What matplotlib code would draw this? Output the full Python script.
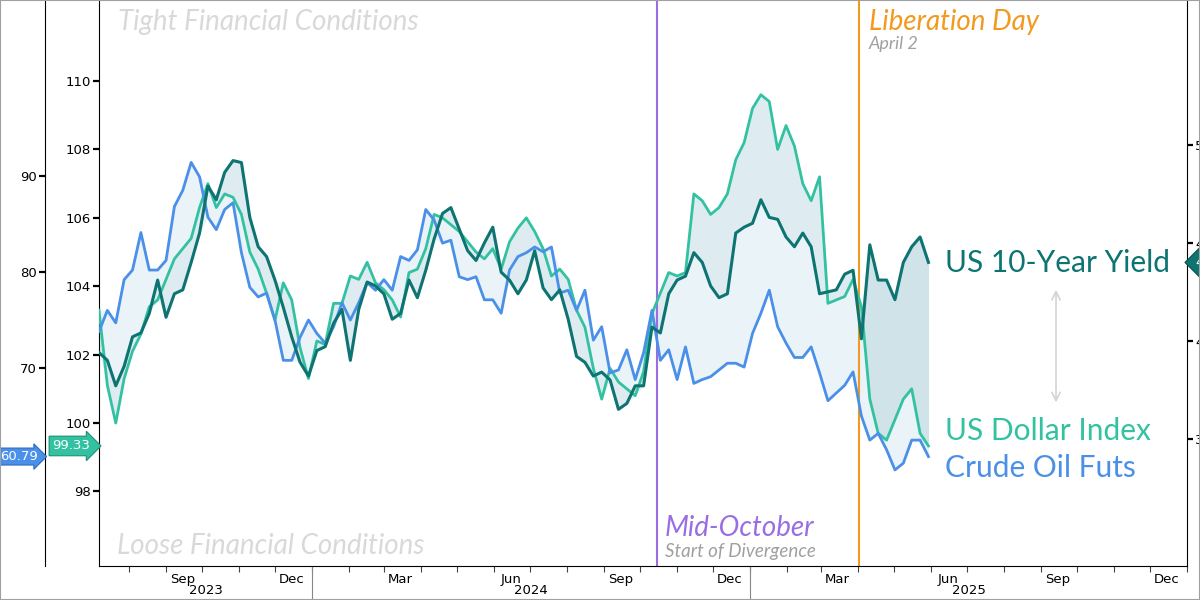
import matplotlib
matplotlib.use('Agg')
import matplotlib.pyplot as plt
import matplotlib.dates as mdates
import matplotlib.transforms as mtransforms
from matplotlib.patches import Rectangle
import numpy as np
import pandas as pd

# weekly closes
dates = pd.date_range('2023-07-07', periods=100, freq='7D')

dollar = [103.3, 101.1, 100.0, 101.3, 102.1, 102.6, 103.4, 103.6, 104.2, 104.8,
          105.1, 105.4, 106.3, 107.0, 106.3, 106.7, 106.6, 106.1, 105.0, 104.5,
          103.8, 103.0, 104.1, 103.6, 102.2, 101.3, 102.4, 102.3, 103.5, 103.5,
          104.3, 104.2, 104.7, 104.1, 103.9, 103.6, 103.1, 104.4, 104.5, 105.1,
          106.1, 106.0, 105.8, 105.6, 105.3, 105.0, 104.8, 105.1, 104.5, 105.3,
          105.7, 106.0, 105.6, 105.1, 104.3, 104.5, 104.2, 103.3, 102.8, 101.6,
          100.7, 101.6, 101.2, 101.0, 100.8, 101.5, 103.2, 103.8, 104.4, 104.3,
          104.4, 106.7, 106.5, 106.1, 106.3, 106.7, 107.7, 108.2, 109.2, 109.6,
          109.4, 108.0, 108.7, 108.1, 107.0, 106.5, 107.2, 103.5, 103.6, 103.7,
          104.2, 103.4, 100.7, 99.7, 99.5, 100.1, 100.7, 101.0, 99.7, 99.33]

oil = [73.8, 76.0, 74.7, 79.2, 80.2, 84.1, 80.2, 80.2, 81.2, 86.8,
       88.5, 91.4, 89.9, 85.7, 84.4, 86.5, 87.2, 82.0, 78.4, 77.4,
       77.8, 75.0, 70.8, 70.8, 73.2, 75.0, 73.6, 72.6, 74.3, 76.8,
       75.0, 76.8, 78.9, 78.1, 79.2, 78.1, 81.6, 81.2, 82.3, 86.5,
       85.4, 83.0, 83.3, 79.5, 79.2, 79.5, 77.1, 77.1, 75.7, 80.2,
       81.6, 82.0, 82.6, 82.1, 82.6, 77.8, 78.1, 76.0, 78.1, 72.9,
       74.3, 69.5, 69.8, 71.9, 68.8, 71.6, 76.0, 70.8, 71.9, 68.8,
       72.2, 68.4, 68.8, 69.1, 69.8, 70.5, 70.5, 70.1, 73.6, 75.7,
       78.1, 74.3, 72.6, 71.1, 71.1, 72.2, 69.5, 66.6, 67.4, 68.2,
       69.6, 65.0, 62.5, 63.2, 61.5, 59.4, 60.1, 62.5, 62.5, 60.79]

yield10 = [3.94, 3.90, 3.77, 3.87, 4.02, 4.04, 4.14, 4.31, 4.12, 4.24,
           4.26, 4.40, 4.55, 4.79, 4.72, 4.86, 4.92, 4.91, 4.63, 4.48,
           4.43, 4.31, 4.17, 4.02, 3.89, 3.82, 3.95, 3.97, 4.09, 4.16,
           3.90, 4.16, 4.30, 4.28, 4.24, 4.11, 4.14, 4.31, 4.22, 4.36,
           4.52, 4.65, 4.68, 4.57, 4.46, 4.41, 4.50, 4.58, 4.35, 4.31,
           4.24, 4.31, 4.46, 4.27, 4.21, 4.26, 4.11, 3.92, 3.89, 3.82,
           3.84, 3.80, 3.65, 3.68, 3.77, 3.77, 4.07, 4.04, 4.24, 4.31,
           4.33, 4.45, 4.40, 4.28, 4.22, 4.24, 4.55, 4.58, 4.60, 4.72,
           4.63, 4.62, 4.53, 4.48, 4.55, 4.48, 4.24, 4.25, 4.26, 4.34,
           4.36, 4.01, 4.49, 4.31, 4.31, 4.21, 4.40, 4.48, 4.53, 4.40]

dollar_ticks = [98, 100, 102, 104, 106, 108, 110]
oil_ticks = [70, 80, 90]
yield_ticks = [3.5, 4.0, 4.5, 5.0]

mid_oct = pd.Timestamp('2024-10-15')
lib_day = pd.Timestamp('2025-04-02')

C_YLD = '#0e7472'
C_USD = '#33c2a1'
C_OIL = '#4a8fe8'
C_PURPLE = '#9a6ee2'
C_ORANGE = '#f29a1f'

D_LIM = (95.82, 112.37)
O_LIM = (49.4, 108.3)
Y_LIM = (2.85, 5.74)

plt.rcParams['font.family'] = 'DejaVu Sans'

fig = plt.figure(figsize=(12, 6), dpi=100)
ax = fig.add_axes([99 / 1200, 34 / 600, 1088 / 1200, 566 / 600])
ax_oil = ax.twinx()
ax_y = ax.twinx()

ax.set_xlim(pd.Timestamp('2023-07-07'), pd.Timestamp('2026-01-01'))
ax.set_ylim(*D_LIM)
ax_oil.set_ylim(*O_LIM)
ax_y.set_ylim(*Y_LIM)


def to_dollar(v, lim):
    v = np.asarray(v, dtype=float)
    return D_LIM[0] + (v - lim[0]) / (lim[1] - lim[0]) * (D_LIM[1] - D_LIM[0])


d = np.asarray(dollar)
o = to_dollar(oil, O_LIM)
y = to_dollar(yield10, Y_LIM)
top = np.maximum.reduce([d, o, y])
bot = np.minimum.reduce([d, o, y])
ax.fill_between(dates, bot, top, color='#eaf3f8', lw=0, zorder=1)
ax.fill_between(dates, y, d, color=C_YLD, alpha=0.05, lw=0, zorder=1)
post = dates >= lib_day
ax.fill_between(dates, y, d, where=post, color=C_YLD, alpha=0.07, lw=0, zorder=1)

ax.axvline(mid_oct, color=C_PURPLE, lw=1.5, zorder=2)
ax.axvline(lib_day, color=C_ORANGE, lw=1.5, zorder=2)

ax.plot(dates, dollar, color=C_USD, lw=2, zorder=3)
ax_oil.plot(dates, oil, color=C_OIL, lw=2, zorder=3)
ax_y.plot(dates, yield10, color=C_YLD, lw=2.2, zorder=3)

# axes styling
for a in (ax, ax_oil, ax_y):
    for s in a.spines.values():
        s.set_visible(False)
ax.spines['left'].set_visible(True)
ax.spines['bottom'].set_visible(True)
ax_oil.spines['left'].set_visible(True)
ax_oil.spines['left'].set_position(('outward', 54 * 0.72))
ax_oil.yaxis.set_ticks_position('left')
ax_oil.yaxis.set_label_position('left')
ax_y.spines['right'].set_visible(True)

ax.set_yticks(dollar_ticks)
ax_oil.set_yticks(oil_ticks)
ax_y.set_yticks(yield_ticks)
ax_y.set_yticklabels([f'{t:.1f}' for t in yield_ticks])
for a in (ax, ax_oil, ax_y):
    a.tick_params(axis='y', length=4, width=1.6, labelsize=9.5, pad=2)

ax.xaxis.set_major_locator(mdates.MonthLocator(bymonth=[3, 6, 9, 12], bymonthday=15))
ax.xaxis.set_major_formatter(mdates.DateFormatter('%b'))
ax.xaxis.set_minor_locator(mdates.MonthLocator())
ax.tick_params(axis='x', which='major', length=0, labelsize=9.5, pad=5)
ax.tick_params(axis='x', which='minor', length=4, width=0.8, color='#444444')

trans = mtransforms.blended_transform_factory(ax.transData, ax.transAxes)
x0, x1 = [mdates.num2date(v).replace(tzinfo=None) for v in ax.get_xlim()]
for yr in (2023, 2024, 2025):
    a0 = max(pd.Timestamp(x0), pd.Timestamp(f'{yr}-01-01'))
    a1 = min(pd.Timestamp(x1), pd.Timestamp(f'{yr + 1}-01-01'))
    ax.text(a0 + (a1 - a0) / 2, -0.044, str(yr), transform=trans, ha='center',
            va='center', fontsize=9.5)
    if yr > 2023:
        ax.plot([pd.Timestamp(f'{yr}-01-01')] * 2, [0, -0.065], transform=trans,
                color='#888888', lw=0.8, clip_on=False)

# last-value tags
tr_d = mtransforms.blended_transform_factory(ax.transAxes, ax.transData)
ax.text(-0.008, dollar[-1], f'{dollar[-1]:.2f}', transform=tr_d, ha='right', va='center',
        fontsize=9.5, color='white',
        bbox=dict(boxstyle='rarrow,pad=0.25', fc=C_USD, ec='#1f8f75', lw=0.8))
tr_o = mtransforms.blended_transform_factory(ax_oil.transAxes, ax_oil.transData)
ax_oil.text(-0.0565, oil[-1], f'{oil[-1]:.2f}', transform=tr_o, ha='right', va='center',
            fontsize=9.5, color='white',
            bbox=dict(boxstyle='rarrow,pad=0.15', fc=C_OIL, ec='#2c6cc0', lw=0.8))
tr_y = mtransforms.blended_transform_factory(ax_y.transAxes, ax_y.transData)
ax_y.text(1.008, yield10[-1], f'{yield10[-1]:.2f}', transform=tr_y, ha='left', va='center',
          fontsize=9.5, color='white',
          bbox=dict(boxstyle='larrow,pad=0.25', fc=C_YLD, ec='#094f4d', lw=0.8))

# annotations
ax.text(0.0175, 0.961, 'Tight Financial Conditions', transform=ax.transAxes,
        fontsize=20, style='italic', family='Lato', color='#d9d9d9', va='center')
ax.text(0.0165, 0.035, 'Loose Financial Conditions', transform=ax.transAxes,
        fontsize=20, style='italic', family='Lato', color='#d9d9d9', va='center')
ax.text(0.7077, 0.961, 'Liberation Day', transform=ax.transAxes,
        fontsize=20, style='italic', family='Lato', color=C_ORANGE, va='center')
ax.text(0.7077, 0.922, 'April 2', transform=ax.transAxes,
        fontsize=13, style='italic', family='Lato', color='#a0a0a0', va='center')
ax.text(0.520, 0.067, 'Mid-October', transform=ax.transAxes,
        fontsize=20, style='italic', family='Lato', color=C_PURPLE, va='center')
ax.text(0.520, 0.0265, 'Start of Divergence', transform=ax.transAxes,
        fontsize=13.5, style='italic', family='Lato', color='#a0a0a0', va='center')

ax.text(0.7776, 0.535, 'US 10-Year Yield', transform=ax.transAxes,
        fontsize=21.5, family='Lato', color=C_YLD, va='center')
ax.text(0.7776, 0.2385, 'US Dollar Index', transform=ax.transAxes,
        fontsize=21.5, family='Lato', color=C_USD, va='center')
ax.text(0.7776, 0.173, 'Crude Oil Futs', transform=ax.transAxes,
        fontsize=21.5, family='Lato', color=C_OIL, va='center')
ax.annotate('', xy=(0.8796, 0.493), xytext=(0.8796, 0.284), xycoords='axes fraction',
            arrowprops=dict(arrowstyle='<->,head_length=0.6,head_width=0.3',
                            color='#d4d4d4', lw=1.2))

fig.patches.append(Rectangle((0, 0), 1, 1, transform=fig.transFigure, fill=False,
                             ec='#a0a0a0', lw=1.5))

fig.savefig('out.png', dpi=100)
